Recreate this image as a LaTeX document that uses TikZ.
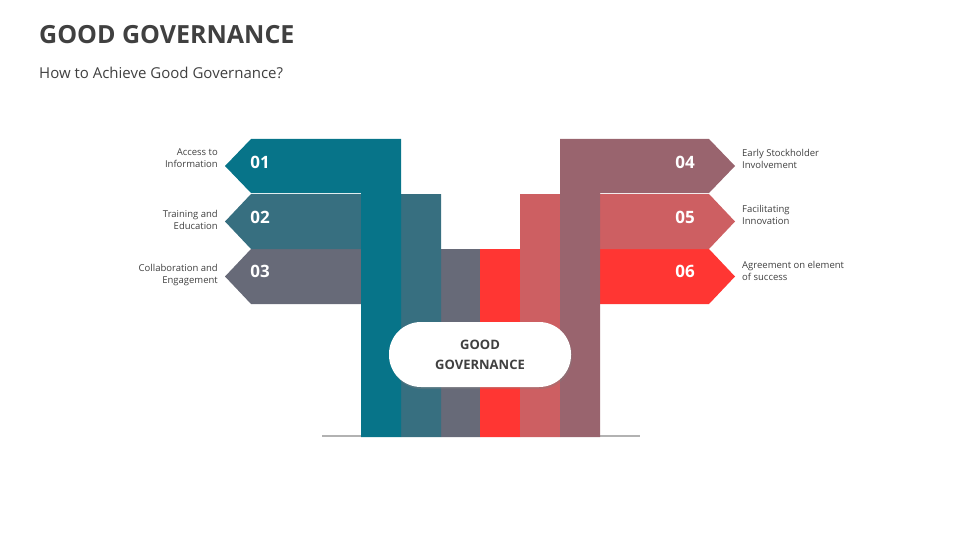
\documentclass[tikz,border=0pt]{standalone}
\usepackage{fontspec}
\setmainfont{Open Sans}
\usetikzlibrary{shadows}
\definecolor{cA}{HTML}{077489}\definecolor{cB}{HTML}{376F80}\definecolor{cC}{HTML}{676A78}
\definecolor{cD}{HTML}{99646E}\definecolor{cE}{HTML}{CD5F62}\definecolor{cF}{HTML}{FF3633}
\definecolor{tx}{HTML}{404040}
\tikzset{lbl/.style={font=\fontsize{9.5}{12}\selectfont,text=tx,inner sep=0pt},
num/.style={font=\bfseries\fontsize{17}{20}\selectfont,text=white,inner sep=0pt},
band/.style={draw=none}}
\begin{document}
\begin{tikzpicture}[x=1pt,y=-1pt]
\useasboundingbox (0,0) rectangle (960,540);
\node[anchor=west,font=\bfseries\fontsize{25}{30}\selectfont,text=tx,inner sep=0pt] (title) at (39,35) {GOOD GOVERNANCE};
\node[anchor=west,font=\fontsize{15}{18}\selectfont,text=tx,inner sep=0pt] (sub) at (39,73) {How to Achieve Good Governance?};
\draw[gray!60,line width=2.5pt] (322,436) -- (640,436);
% left
\fill[cC] (225,276.5) -- (251,249) -- (480,249) -- (480,437) -- (441,437) -- (441,304) -- (251,304) -- cycle;
\fill[cB] (225,221.5) -- (251,194) -- (441,194) -- (441,437) -- (401,437) -- (401,249) -- (251,249) -- cycle;
\fill[cA] (225,166) -- (251,139) -- (401,139) -- (401,437) -- (361,437) -- (361,193) -- (251,193) -- cycle;
% right
\fill[cF] (735,276.5) -- (709,249) -- (480,249) -- (480,437) -- (520,437) -- (520,304) -- (709,304) -- cycle;
\fill[cE] (735,221.5) -- (709,194) -- (520,194) -- (520,437) -- (560,437) -- (560,249) -- (709,249) -- cycle;
\fill[cD] (735,166) -- (709,139) -- (560,139) -- (560,437) -- (600,437) -- (600,193) -- (709,193) -- cycle;
\node[num] (n1) at (260,162) {01};
\node[num] (n2) at (260,217) {02};
\node[num] (n3) at (260,271) {03};
\node[num] (n4) at (685,162) {04};
\node[num] (n5) at (685,217) {05};
\node[num] (n6) at (685,271) {06};
\node[lbl,anchor=east,align=right] (l1) at (218,158) {Access to\\Information};
\node[lbl,anchor=east,align=right] (l2) at (218,220) {Training and\\Education};
\node[lbl,anchor=east,align=right] (l3) at (218,275) {Collaboration and\\Engagement};
\node[lbl,anchor=west,align=left] (l4) at (742,159) {Early Stockholder\\Involvement};
\node[lbl,anchor=west,align=left] (l5) at (742,215) {Facilitating\\Innovation};
\node[lbl,anchor=west,align=left] (l6) at (742,271) {Agreement on element\\of success};
\node[fill=white,rounded corners=32pt,minimum width=182pt,minimum height=65pt,drop shadow={opacity=0.35,shadow xshift=1pt,shadow yshift=-2pt},align=center,font=\bfseries\fontsize{13}{20}\selectfont,text=tx] (gg) at (480,354.5) {GOOD\\GOVERNANCE};
\end{tikzpicture}
\end{document}
